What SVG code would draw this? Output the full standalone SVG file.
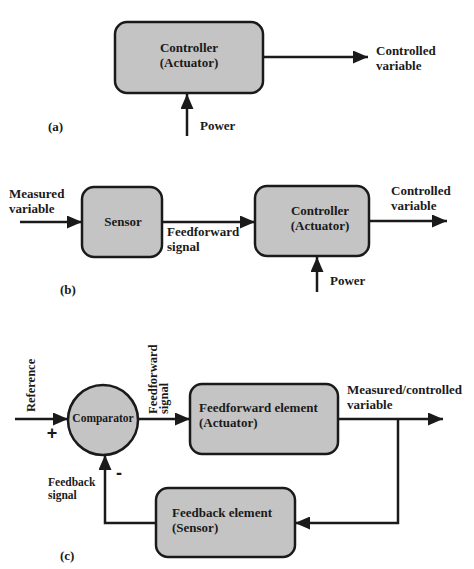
<svg xmlns="http://www.w3.org/2000/svg" width="474" height="569" viewBox="0 0 474 569">
<style>
.box{fill:#c4c4c4;stroke:#1a1a1a;stroke-width:2.5}
.ln{fill:none;stroke:#1a1a1a;stroke-width:2.5;marker-end:url(#ah)}
text{font-family:"Liberation Serif","Times New Roman",serif;font-weight:bold;fill:#1a1a1a;font-size:13px}
.c{text-anchor:middle}
.s{font-size:11.5px}
.v{font-size:12.5px}
.sign{font-family:"Liberation Sans",Arial,sans-serif;font-size:18px}
</style>
<defs>
<marker id="ah" markerUnits="userSpaceOnUse" markerWidth="16" markerHeight="13" refX="15" refY="6.5" orient="auto">
<path d="M0,0 L15,6.5 L0,13 z" fill="#1a1a1a"/>
</marker>
</defs>
<rect width="474" height="569" fill="#fff"/>

<g id="connectors">
<line class="ln" x1="263" y1="57" x2="368" y2="57"/>
<line class="ln" x1="187" y1="136" x2="187" y2="94"/>
<line class="ln" x1="20" y1="222" x2="82" y2="222"/>
<line class="ln" x1="162" y1="222" x2="255" y2="222"/>
<line class="ln" x1="369" y1="221" x2="447" y2="221"/>
<line class="ln" x1="317" y1="292" x2="317" y2="257"/>
<line class="ln" x1="15" y1="419" x2="68" y2="419"/>
<line class="ln" x1="138" y1="419" x2="190" y2="419"/>
<line class="ln" x1="338" y1="419" x2="443" y2="419"/>
<polyline class="ln" points="398,419 398,523 295,523"/>
<polyline class="ln" points="156,523 105,523 105,455"/>
</g>

<g id="a-controller">
<rect class="box" x="115" y="22" width="148" height="71" rx="12"/>
<text class="c" x="189" y="52">Controller</text>
<text class="c" x="189" y="67">(Actuator)</text>
</g>
<g id="a-labels">
<text x="376" y="55">Controlled</text>
<text x="376" y="70">variable</text>
<text x="200" y="130">Power</text>
<text x="48" y="131">(a)</text>
</g>

<g id="b-sensor">
<rect class="box" x="82" y="187" width="80" height="70" rx="12"/>
<text class="c" x="123" y="226">Sensor</text>
</g>
<g id="b-controller">
<rect class="box" x="255" y="186" width="114" height="70" rx="12"/>
<text class="c" x="320" y="215">Controller</text>
<text class="c" x="320" y="230">(Actuator)</text>
</g>
<g id="b-labels">
<text x="9" y="198">Measured</text>
<text x="9" y="213">variable</text>
<text x="167" y="236">Feedforward</text>
<text x="167" y="251">signal</text>
<text x="391" y="195">Controlled</text>
<text x="391" y="210">variable</text>
<text x="330" y="285">Power</text>
<text x="60" y="294">(b)</text>
</g>

<g id="c-comparator">
<circle class="box" cx="103" cy="420" r="35"/>
<text class="c s" x="103" y="422">Comparator</text>
</g>
<g id="c-feedforward">
<rect class="box" x="190" y="384" width="148" height="70" rx="12"/>
<text x="199" y="412">Feedforward element</text>
<text x="199" y="427">(Actuator)</text>
</g>
<g id="c-feedback">
<rect class="box" x="156" y="488" width="139" height="69" rx="12"/>
<text x="172" y="517">Feedback element</text>
<text x="172" y="532">(Sensor)</text>
</g>
<g id="c-labels">
<text class="v" transform="translate(35,412) rotate(-90)">Reference</text>
<text class="v" transform="translate(157,414) rotate(-90)">Feedforward</text>
<text class="v" transform="translate(168,414) rotate(-90)">signal</text>
<text class="sign c" x="52" y="439">+</text>
<text class="sign c" x="119" y="479">-</text>
<text class="s" x="48" y="486">Feedback</text>
<text class="s" x="48" y="499">signal</text>
<text x="347" y="394">Measured/controlled</text>
<text x="347" y="409">variable</text>
<text x="60" y="560">(c)</text>
</g>
</svg>
